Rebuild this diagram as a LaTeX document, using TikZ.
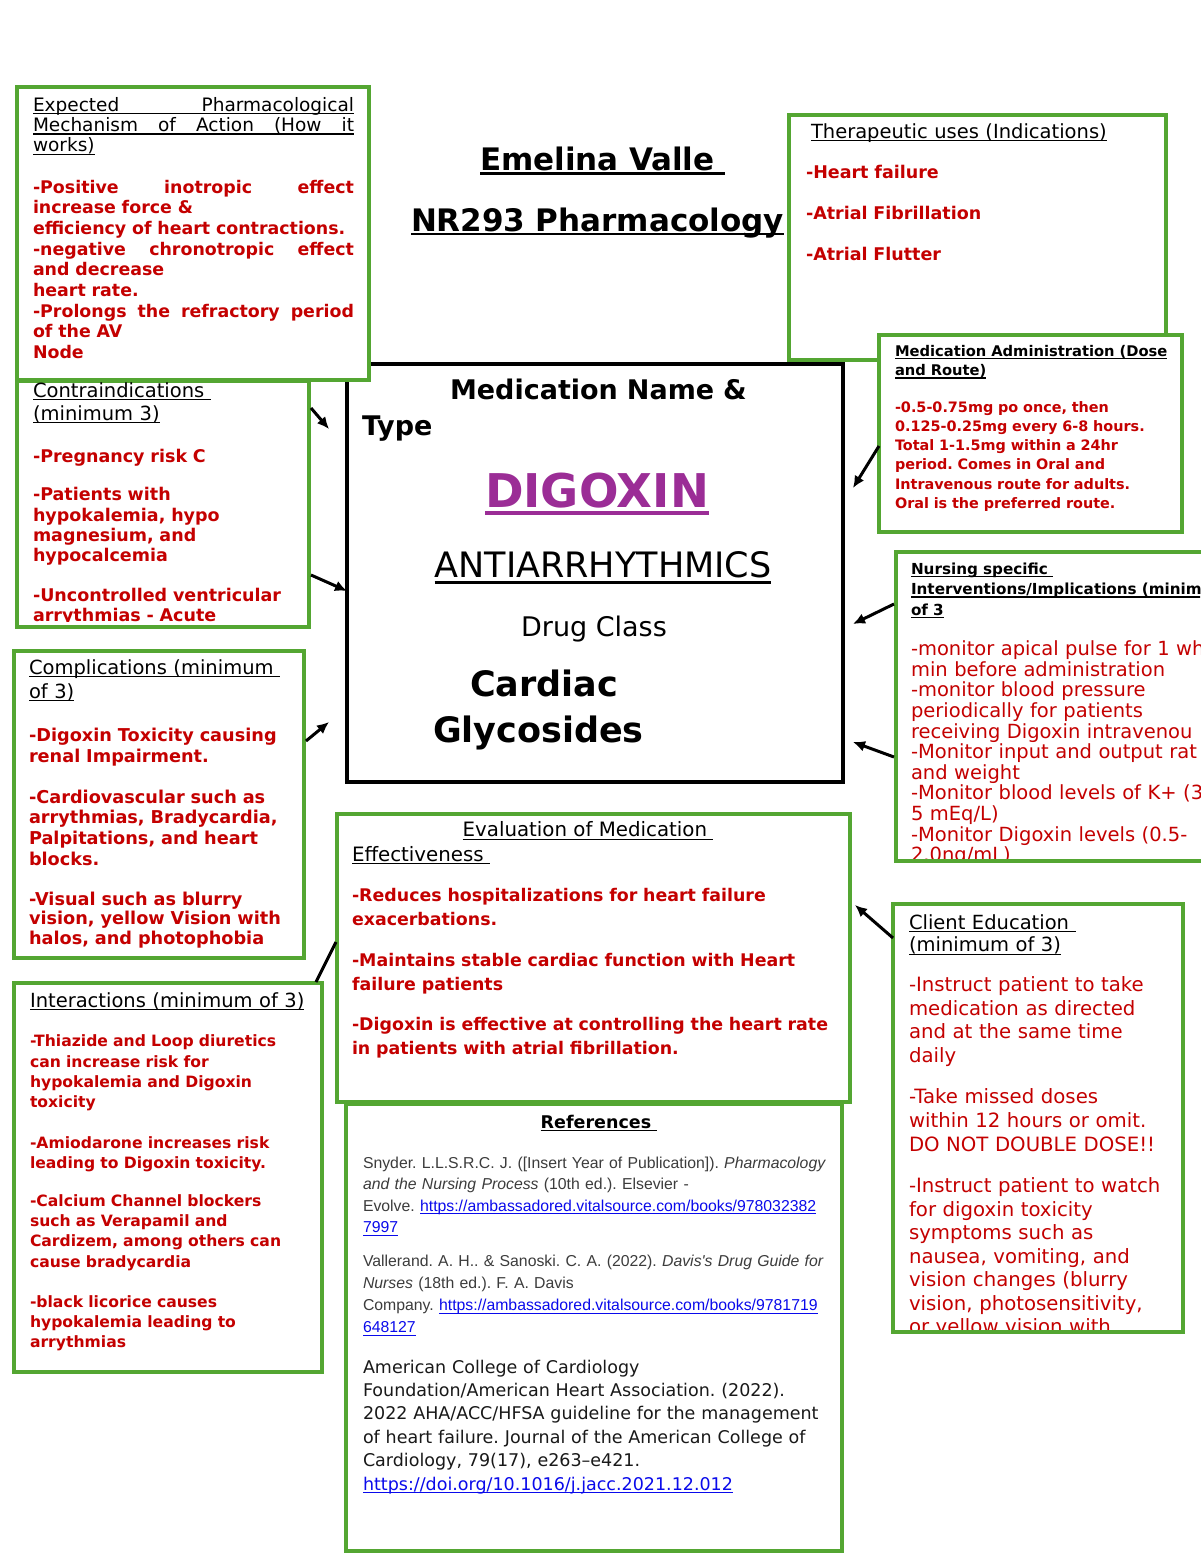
\documentclass[tikz,border=0pt]{standalone}
\usepackage{fontspec}
\setmainfont{DejaVu Sans}
\newfontfamily\reffont{Liberation Sans}
\usetikzlibrary{arrows.meta}
\frenchspacing
\definecolor{boxgreen}{RGB}{84,166,50}
\definecolor{txtred}{RGB}{196,0,0}
\definecolor{digpurple}{RGB}{155,45,150}
\definecolor{linkblue}{RGB}{10,10,235}
\definecolor{refgray}{RGB}{60,60,60}
\newcommand\fs[2]{\fontsize{#1}{#2}\selectfont}
\newcommand\myul[3]{\leavevmode\setbox0=\hbox{#3}\rlap{\vrule width\wd0 height -#2 depth \dimexpr#2+#1\relax}\box0}
\newcommand\hul[1]{\myul{1.4pt}{1.9pt}{#1}}
\newcommand\lnk[1]{{\color{linkblue}\myul{0.9pt}{1.8pt}{#1}}}
\newcommand\jline[1]{\leavevmode\hbox to 321pt{#1}}
\tikzset{
  gbox/.style={draw=boxgreen, line width=4pt, fill=white, inner sep=0pt, outer sep=0pt, anchor=north west},
  cbox/.style={draw=black, line width=4pt, fill=white, inner sep=0pt, outer sep=0pt, anchor=north west},
  tx/.style={anchor=base west, inner sep=0pt, outer sep=0pt, align=left, text width=700pt, execute at begin node=\frenchspacing},
  ctx/.style={anchor=base, inner sep=0pt, outer sep=0pt},
  rtx/.style={tx, text=txtred},
  arrowline/.style={line width=3pt, -{Latex[length=12pt,width=11pt]}},
}
\begin{document}
\begin{tikzpicture}[x=1pt,y=-1pt]
\useasboundingbox (0,0) rectangle (1200,1553);
\fill[white] (0,0) rectangle (1200,1553);

% titles
\node[tx, font=\bfseries\fs{31}{36}] (title1) at (480,170) {\myul{2.4pt}{2.2pt}{Emelina Valle\ }};
\node[tx, font=\bfseries\fs{31}{36}] (title2) at (411,231) {\myul{2.4pt}{1.6pt}{NR293 Pharmacology}};

% central box
\node[cbox, minimum width=496pt, minimum height=418pt] (central) at (347,364) {};
\node[tx, font=\bfseries\fs{27}{30}] (medname) at (450,399) {Medication Name \&};
\node[tx, font=\bfseries\fs{27}{30}] (medtype) at (362,435) {Type};
\node[ctx, font=\bfseries\fs{46.5}{50}, text=digpurple] (drug) at (597,507) {\myul{4pt}{4pt}{DIGOXIN}};
\node[ctx, font=\fs{35}{40}] (drugtype) at (603,577) {\myul{3pt}{4pt}{ANTIARRHYTHMICS}};
\node[ctx, font=\fs{27}{30}] (dclass) at (594,636) {Drug Class};
\node[tx, font=\bfseries\fs{35}{40}] (card1) at (470,696) {Cardiac};
\node[tx, font=\bfseries\fs{35}{40}] (card2) at (433,742) {Glycosides};

% green boxes
\node[gbox, minimum width=352pt, minimum height=293pt] (mech) at (17,87) {};
\node[gbox, minimum width=292pt, minimum height=246pt] (contra) at (17,381) {};
\node[gbox, minimum width=290pt, minimum height=307pt] (comp) at (14,651) {};
\node[gbox, minimum width=308pt, minimum height=389pt] (inter) at (14,983) {};
\node[gbox, minimum width=377pt, minimum height=245pt] (ther) at (789,115) {};
\node[gbox, minimum width=303pt, minimum height=197pt] (admin) at (879,335) {};
\node[gbox, minimum width=330pt, minimum height=309pt] (nurs) at (896,552) {};
\node[gbox, minimum width=290pt, minimum height=428pt] (client) at (893,904) {};
\node[gbox, minimum width=513pt, minimum height=288pt] (eval) at (337,814) {};
\node[gbox, minimum width=496pt, minimum height=447pt] (refs) at (346,1104) {};

% mechanism
\node[tx, font=\fs{18.5}{20.4}] (mechh) at (33,111) {\hul{\hbox to 321pt{Expected\hfill Pharmacological}}\\
\hul{\hbox to 321pt{Mechanism\hfill of\hfill Action\hfill (How\hfill it}}\\
\hul{works)}};
\node[rtx, font=\bfseries\fs{17.4}{20.7}] (mechr) at (33,193) {\jline{-Positive\hfill inotropic\hfill effect}\\
increase force \&\\
efficiency of heart contractions.\\
\jline{-negative\hfill chronotropic\hfill effect}\\
and decrease\\
heart rate.\\
\jline{-Prolongs\hfill the\hfill refractory\hfill period}\\
of the AV\\
Node};

% contraindications
\node[tx, font=\fs{19.5}{23}] (contrah) at (33,397) {\hul{Contraindications\ }\\ \hul{(minimum 3)}};
\node[rtx, font=\bfseries\fs{17.5}{20.5}] (contra1) at (33,462) {-Pregnancy risk C};
\node[rtx, font=\bfseries\fs{17.5}{20.4}] (contra2) at (33,500.7) {-Patients with\\ hypokalemia, hypo\\ magnesium, and\\ hypocalcemia};
\begin{scope}
\clip (19,383) rectangle (307,621);
\node[rtx, font=\bfseries\fs{17.5}{20.5}] (contra3) at (33,601) {-Uncontrolled ventricular\\ arrythmias - Acute};
\end{scope}

% complications
\node[tx, font=\fs{19.5}{24}] (comph) at (29,674) {\hul{Complications (minimum\ }\\ \hul{of 3)}};
\node[rtx, font=\bfseries\fs{17.7}{20.3}] (comp1) at (29,741.7) {-Digoxin Toxicity causing\\ renal Impairment.};
\node[rtx, font=\bfseries\fs{17.7}{20.7}] (comp2) at (29,803) {-Cardiovascular such as\\ arrythmias, Bradycardia,\\ Palpitations, and heart\\ blocks.};
\node[rtx, font=\bfseries\fs{17.7}{19.5}] (comp3) at (29,905) {-Visual such as blurry\\ vision, yellow Vision with\\ halos, and photophobia};

% interactions
\node[tx, font=\fs{19.5}{23}] (interh) at (30,1007) {\hul{Interactions (minimum of 3)}};
\node[rtx, font=\bfseries\fs{15.6}{20.4}] (inter1) at (30,1046.7) {-Thiazide and Loop diuretics\\ can increase risk for\\ hypokalemia and Digoxin\\ toxicity};
\node[rtx, font=\bfseries\fs{15.6}{20.4}] (inter2) at (30,1148) {-Amiodarone increases risk\\ leading to Digoxin toxicity.};
\node[rtx, font=\bfseries\fs{15.6}{20.4}] (inter3) at (30,1206) {-Calcium Channel blockers\\ such as Verapamil and\\ Cardizem, among others can\\ cause bradycardia};
\node[rtx, font=\bfseries\fs{15.6}{20.4}] (inter4) at (30,1307) {-black licorice causes\\ hypokalemia leading to\\ arrythmias};

% therapeutic uses
\node[tx, font=\fs{19.5}{23}] (therh) at (811,138) {\hul{Therapeutic uses (Indications)}};
\node[rtx, font=\bfseries\fs{17.5}{41.3}] (therr) at (806,178) {-Heart failure\\ -Atrial Fibrillation\\ -Atrial Flutter};

% medication administration
\node[tx, font=\bfseries\fs{14.7}{19.7}] (adminh) at (895,356) {\myul{1.2pt}{1.6pt}{Medication Administration (Dose}\\ \myul{1.2pt}{1.6pt}{and Route)}};
\node[rtx, font=\bfseries\fs{14.4}{19.3}] (adminr) at (895,412) {-0.5-0.75mg po once, then\\ 0.125-0.25mg every 6-8 hours.\\ Total 1-1.5mg within a 24hr\\ period. Comes in Oral and\\ Intravenous route for adults.\\ Oral is the preferred route.};

% nursing
\begin{scope}
\clip (898,554) rectangle (1200,858);
\node[tx, font=\bfseries\fs{15.2}{20.4}] (nursh) at (911,574.3) {\myul{1.2pt}{1.7pt}{Nursing specific\ }\\ \myul{1.2pt}{1.7pt}{Interventions/Implications (minim}\\ \myul{1.2pt}{1.7pt}{of 3}};
\node[rtx, font=\fs{19.5}{20.6}] (nursr) at (911,655.7) {-monitor apical pulse for 1 wh\\
min before administration\\
-monitor blood pressure\\
periodically for patients\\
receiving Digoxin intravenou\\
-Monitor input and output rat\\
and weight\\
-Monitor blood levels of K+ (3\\
5 mEq/L)\\
-Monitor Digoxin levels (0.5-\\
2.0ng/mL)};
\end{scope}

% client education
\begin{scope}
\clip (895,906) rectangle (1181,1329);
\node[tx, font=\fs{19.5}{22.7}] (clienth) at (909,929) {\hul{Client Education\ }\\ \hul{(minimum of 3)}};
\node[rtx, font=\fs{19.7}{23.5}] (client1) at (909,991.7) {-Instruct patient to take\\ medication as directed\\ and at the same time\\ daily};
\node[rtx, font=\fs{19.7}{24.3}] (client2) at (909,1103) {-Take missed doses\\ within 12 hours or omit.\\ DO NOT DOUBLE DOSE!!};
\node[rtx, font=\fs{19.7}{23.5}] (client3) at (909,1192.7) {-Instruct patient to watch\\ for digoxin toxicity\\ symptoms such as\\ nausea, vomiting, and\\ vision changes (blurry\\ vision, photosensitivity,\\ or yellow vision with};
\end{scope}

% evaluation
\node[ctx, font=\fs{19.8}{23}] (evalh) at (588,836.7) {\hul{Evaluation of Medication\ }};
\node[tx, font=\fs{19.8}{23}] (evalh2) at (352,861) {\hul{Effectiveness\ }};
\node[rtx, font=\bfseries\fs{17.4}{23.5}] (eval1) at (352,901.7) {-Reduces hospitalizations for heart failure\\ exacerbations.};
\node[rtx, font=\bfseries\fs{17.4}{23.5}] (eval2) at (352,966.7) {-Maintains stable cardiac function with Heart\\ failure patients};
\node[rtx, font=\bfseries\fs{17.4}{24.5}] (eval3) at (352,1030) {-Digoxin is effective at controlling the heart rate\\ in patients with atrial fibrillation.};

% references
\node[ctx, font=\bfseries\fs{17.5}{22}] (refh) at (599,1128) {\hul{References\ }};
\node[tx, font=\reffont\fs{15.8}{21.6}, text=refgray] (ref1) at (363,1168) {Snyder. L.L.S.R.C. J. ([Insert Year of Publication]). \textit{Pharmacology}\\
\textit{and the Nursing Process} (10th ed.). Elsevier -\\
Evolve. \lnk{https://ambassadored.vitalsource.com/books/978032382}\\
\lnk{7997}};
\node[tx, font=\reffont\fs{15.8}{22}, text=refgray] (ref2) at (363,1266.7) {Vallerand. A. H.. \& Sanoski. C. A. (2022). \textit{Davis's Drug Guide for}\\
\textit{Nurses} (18th ed.). F. A. Davis\\
Company. \lnk{https://ambassadored.vitalsource.com/books/9781719}\\
\lnk{648127}};
\node[tx, font=\fs{17.5}{23.4}, text=black!90] (ref3) at (363,1373) {American College of Cardiology\\
Foundation/American Heart Association. (2022).\\
2022 AHA/ACC/HFSA guideline for the management\\
of heart failure. Journal of the American College of\\
Cardiology, 79(17), e263–e421.\\
\lnk{https://doi.org/10.1016/j.jacc.2021.12.012}};

% connectors
\coordinate (a1s) at (311,408); \coordinate (a1e) at (329,429);
\coordinate (a2s) at (311,575); \coordinate (a2e) at (347,591);
\coordinate (a3s) at (306,741); \coordinate (a3e) at (329,722);
\coordinate (a4s) at (316,982); \coordinate (a4e) at (336,942);
\coordinate (a5s) at (879,446); \coordinate (a5e) at (853,488);
\coordinate (a6s) at (894,604); \coordinate (a6e) at (853,624);
\coordinate (a7s) at (894,757); \coordinate (a7e) at (853,742);
\coordinate (a8s) at (893,938); \coordinate (a8e) at (855,905);
\draw[arrowline] (a1s) -- (a1e);
\draw[arrowline] (a2s) -- (a2e);
\draw[arrowline] (a3s) -- (a3e);
\draw[line width=3pt] (a4s) -- (a4e);
\draw[arrowline] (a5s) -- (a5e);
\draw[arrowline] (a6s) -- (a6e);
\draw[arrowline] (a7s) -- (a7e);
\draw[arrowline] (a8s) -- (a8e);
\end{tikzpicture}
\end{document}
